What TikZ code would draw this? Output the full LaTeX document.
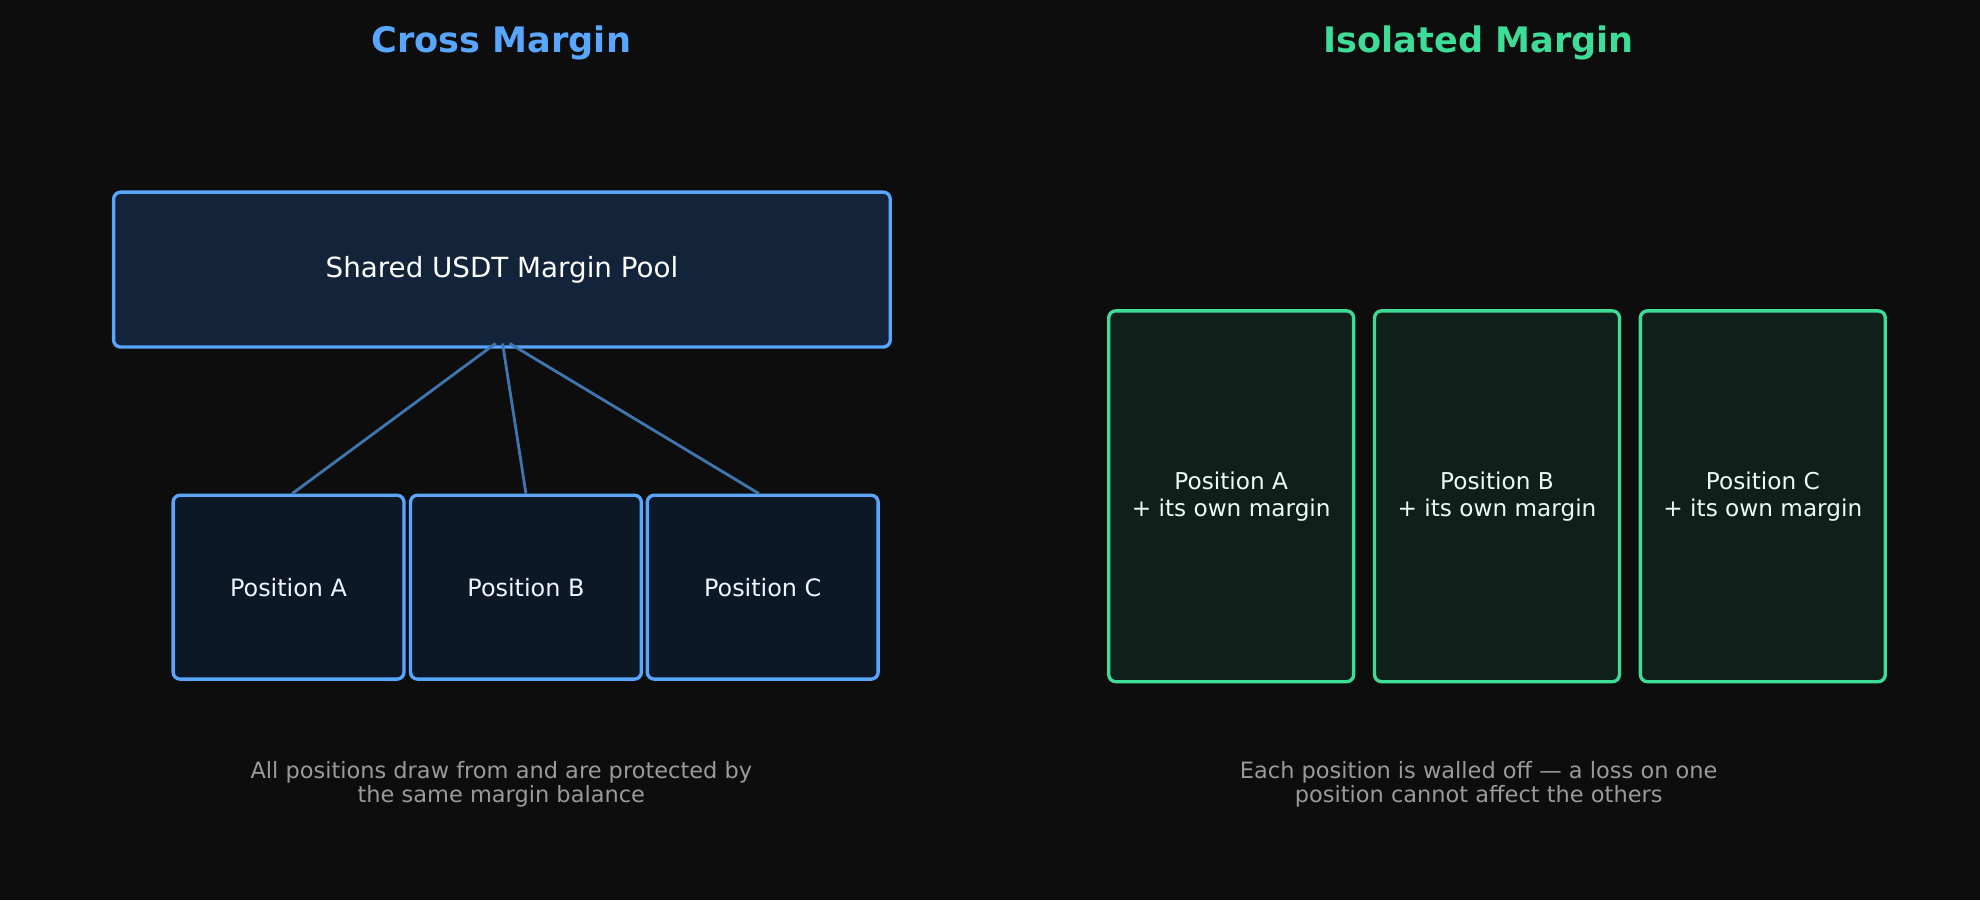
\documentclass[tikz,border=0pt]{standalone}
\usepackage{fontspec}
\setmainfont{DejaVu Sans}
\definecolor{bgc}{HTML}{0D0D0D}
\definecolor{crossblue}{HTML}{58A6FF}
\definecolor{linkblue}{HTML}{3F76B0}
\definecolor{isogreen}{HTML}{3DDC97}
\definecolor{poolfill}{HTML}{13243A}
\definecolor{posfill}{HTML}{0D1826}
\definecolor{isofill}{HTML}{0F1F19}
\definecolor{notegray}{HTML}{9A9A9A}
\begin{document}
\begin{tikzpicture}[
            x=0.012628cm, y=-0.012628cm,
            every node/.style={inner sep=0pt, align=center},
            title/.style={font=\fontsize{10}{11}\selectfont\bfseries},
            crossbox/.style={draw=crossblue, line width=0.95pt, rounded corners=2pt, text=white},
            isobox/.style={draw=isogreen, fill=isofill, line width=0.95pt, rounded corners=2pt,
                text=white!90!isogreen, font=\fontsize{6.6}{7.6}\selectfont},
            note/.style={text=notegray, font=\fontsize{6.4}{7.0}\selectfont},
            link/.style={draw=linkblue, line width=0.8pt},
            ]
            \fill[bgc] (0,0) rectangle (1568,713);
            % cross margin
            \node[title, text=crossblue] (crossT) at (397,34) {Cross Margin};
            \node[crossbox, fill=poolfill, minimum width=7.77cm, minimum height=1.55cm,
                font=\fontsize{7.9}{9}\selectfont] (pool) at (397.5,213.5) {Shared USDT Margin Pool};
            \foreach \n/\x in {A/228.5, B/416.5, C/604} {
                \node[crossbox, fill=posfill, minimum width=2.31cm, minimum height=1.84cm,
                    font=\fontsize{6.8}{8}\selectfont, text=white!90!crossblue] (pos\n) at (\x,465) {Position \n};
            }
            \coordinate (hub) at (398,272);
            \draw[link] (posA.north) ++(3,0) -- ([xshift=-2]hub);
            \draw[link] (posB.north) -- (hub);
            \draw[link] (posC.north) ++(-3,0) -- ([xshift=2]hub);
            \node[note] (crossN) at (397,621) {All positions draw from and are protected by\\the same margin balance};
            % isolated margin
            \node[title, text=isogreen] (isoT) at (1171,34) {Isolated Margin};
            \foreach \n/\x in {A/975, B/1185.5, C/1396} {
                \node[isobox, minimum width=2.45cm, minimum height=3.71cm] (iso\n) at (\x,393) {Position \n\\+ its own margin};
            }
            \node[note] (isoN) at (1171,621) {Each position is walled off — a loss on one\\position cannot affect the others};
        \end{tikzpicture}
\end{document}
